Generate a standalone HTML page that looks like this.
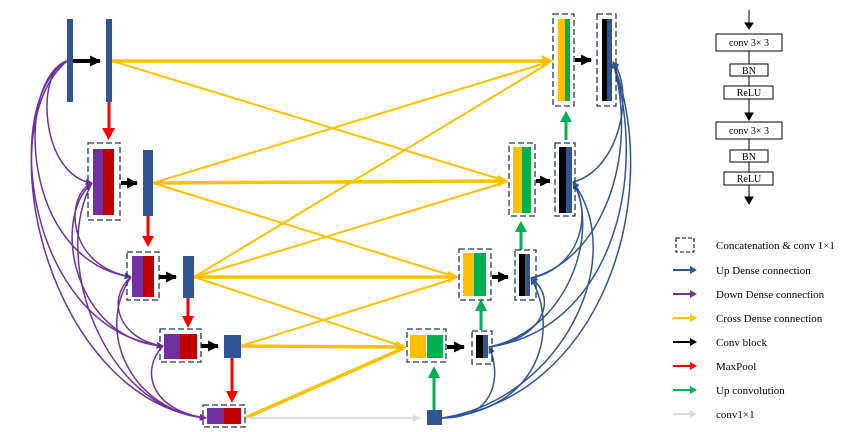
<!DOCTYPE html>
<html><head><meta charset="utf-8"><style>
html,body{margin:0;padding:0;background:#fff;}
svg{display:block;}
text{font-family:"Liberation Serif",serif;}
</style></head><body>
<svg width="863" height="432" viewBox="0 0 863 432" xmlns="http://www.w3.org/2000/svg">
<defs>
<marker id="bh" viewBox="0 0 10 10" markerWidth="11" markerHeight="12" refX="9" refY="5" orient="auto" markerUnits="userSpaceOnUse"><path d="M0,0L10,5L0,10z" fill="#000"/></marker>
<marker id="ap" viewBox="0 0 10 10" markerWidth="7" markerHeight="7" refX="9" refY="5" orient="auto" markerUnits="userSpaceOnUse"><path d="M0,0L10,5L0,10z" fill="#7030A0"/></marker>
<marker id="abl" viewBox="0 0 10 10" markerWidth="7" markerHeight="7" refX="9" refY="5" orient="auto" markerUnits="userSpaceOnUse"><path d="M0,0L10,5L0,10z" fill="#2F5597"/></marker>
<marker id="ag" viewBox="0 0 10 10" markerWidth="8" markerHeight="8" refX="9" refY="5" orient="auto" markerUnits="userSpaceOnUse"><path d="M0,0L10,5L0,10z" fill="#DDD"/></marker>
</defs>

<g stroke="#FFC000" fill="none">
<line x1="112" y1="61" x2="549" y2="61" stroke-width="3.5"/>
<line x1="112" y1="61" x2="506" y2="181" stroke-width="2"/>
<line x1="153" y1="183" x2="549" y2="62" stroke-width="2"/>
<line x1="153" y1="183" x2="506" y2="181" stroke-width="3.5"/>
<line x1="153" y1="183" x2="456" y2="277" stroke-width="2"/>
<line x1="194" y1="277" x2="549" y2="63" stroke-width="2"/>
<line x1="194" y1="277" x2="506" y2="182" stroke-width="2"/>
<line x1="194" y1="277" x2="456" y2="277" stroke-width="3.5"/>
<line x1="194" y1="277" x2="404" y2="347" stroke-width="2"/>
<line x1="241" y1="346" x2="456" y2="278" stroke-width="2"/>
<line x1="241" y1="346" x2="404" y2="347" stroke-width="3.5"/>
<line x1="245" y1="418" x2="404" y2="348" stroke-width="3.5"/>
</g>
<g fill="#FFC000">
<path d="M553,61 l-11,-6 v12z"/><path d="M509,181 l-11,-6 v12z"/><path d="M459,277 l-11,-6 v12z"/><path d="M407,347 l-11,-6 v12z"/>
</g>
<line x1="245" y1="418" x2="420" y2="418" stroke="#DDD" stroke-width="2.5" marker-end="url(#ag)"/>

<g stroke="#7030A0" stroke-width="1.5" fill="none" marker-end="url(#ap)">
<path d="M67,61 C35,70 40,175 92,183"/>
<path d="M67,61 C15,80 20,260 131,277"/>
<path d="M67,61 C0,100 25,330 163,346"/>
<path d="M67,61 C-15,130 50,400 206,418"/>
<path d="M92,183 C65,195 65,265 131,277"/>
<path d="M92,183 C50,220 75,340 163,346"/>
<path d="M92,183 C50,260 105,410 206,418"/>
<path d="M131,277 C105,300 120,340 163,346"/>
<path d="M131,277 C95,330 130,410 206,418"/>
<path d="M163,346 C140,370 150,410 206,418"/>
</g>

<g stroke="#2F5597" stroke-width="1.5" fill="none" marker-end="url(#abl)">
<path d="M442,418 C500,418 500,370 489,347"/>
<path d="M442,418 C540,410 560,330 531,278"/>
<path d="M442,418 C560,400 630,260 573,182"/>
<path d="M442,418 C600,400 665,200 613,62"/>
<path d="M489,347 C540,340 560,300 531,278"/>
<path d="M489,347 C570,330 600,230 573,182"/>
<path d="M489,347 C610,330 650,180 613,62"/>
<path d="M531,278 C575,270 595,220 573,182"/>
<path d="M531,278 C600,260 640,160 613,62"/>
<path d="M573,182 C620,170 635,90 613,62"/>
</g>

<g stroke="#000" stroke-width="4" marker-end="url(#bh)">
<line x1="73" y1="61" x2="100" y2="61"/>
<line x1="121" y1="183" x2="137" y2="183"/>
<line x1="159" y1="277" x2="176" y2="277"/>
<line x1="201" y1="346" x2="218" y2="346"/>
<line x1="447" y1="347" x2="464" y2="347"/>
<line x1="492" y1="277" x2="508" y2="277"/>
<line x1="536" y1="181" x2="550" y2="181"/>
<line x1="575" y1="60" x2="591" y2="60"/>
</g>
<g fill="#FF0000">
<rect x="107.5" y="102" width="3" height="28"/><path d="M102,128 h13 l-6.5,12z"/>
<rect x="146.5" y="216" width="3" height="22"/><path d="M142,236 h12 l-6,11z"/>
<rect x="186.5" y="298" width="3" height="20"/><path d="M182,316 h12 l-6,12z"/>
<rect x="230.5" y="358" width="3" height="35"/><path d="M226,391 h12 l-6,12z"/>
</g>
<g fill="#00B050">
<rect x="432.5" y="376" width="3" height="34"/><path d="M428,378 h12 l-6,-12z"/>
<rect x="479.5" y="309" width="3" height="21"/><path d="M475,311 h12 l-6,-12z"/>
<rect x="519.5" y="230" width="3" height="20"/><path d="M515,232 h12 l-6,-11z"/>
<rect x="564.5" y="120" width="3" height="20"/><path d="M560,122 h12 l-6,-11z"/>
</g>

<g fill="#2F5597">
<rect x="67" y="19" width="6" height="83"/>
<rect x="106" y="19" width="6" height="83"/>
<rect x="143" y="150" width="10" height="66"/>
<rect x="183" y="256" width="11" height="42"/>
<rect x="224" y="335" width="17" height="23"/>
<rect x="427" y="410" width="15" height="15"/>
</g>
<g fill="none" stroke="#1F3864" stroke-width="1.3" stroke-dasharray="6,3">
<rect x="88" y="143" width="32" height="77"/>
<rect x="127" y="252" width="32" height="48"/>
<rect x="160" y="329" width="41" height="33"/>
<rect x="203" y="405" width="42" height="22"/>
<rect x="407" y="329" width="39" height="33"/>
<rect x="472" y="331" width="20" height="33"/>
<rect x="459" y="249" width="32" height="51"/>
<rect x="515" y="250" width="21" height="50"/>
<rect x="509" y="143" width="26" height="73"/>
<rect x="555" y="143" width="20" height="73"/>
<rect x="553" y="14" width="21" height="92"/>
<rect x="597" y="14" width="19" height="92"/>
</g>
<g>
<rect x="93" y="149" width="10" height="66" fill="#7030A0"/><rect x="103" y="149" width="11" height="66" fill="#C00000"/>
<rect x="132" y="256" width="11" height="41" fill="#7030A0"/><rect x="143" y="256" width="11" height="41" fill="#C00000"/>
<rect x="164" y="334" width="16" height="25" fill="#7030A0"/><rect x="180" y="334" width="17" height="25" fill="#C00000"/>
<rect x="207" y="408" width="17" height="16" fill="#7030A0"/><rect x="224" y="408" width="17" height="16" fill="#C00000"/>
<rect x="410" y="335" width="16" height="23" fill="#FFC000"/><rect x="427" y="335" width="16" height="23" fill="#00B050"/>
<rect x="476" y="335" width="7" height="23" fill="#000"/><rect x="483" y="335" width="5" height="23" fill="#2F5597"/>
<rect x="463" y="253" width="11" height="43" fill="#FFC000"/><rect x="474" y="253" width="12" height="43" fill="#00B050"/>
<rect x="519" y="254" width="6" height="42" fill="#000"/><rect x="525" y="254" width="5" height="42" fill="#2F5597"/>
<rect x="513" y="147" width="9" height="66" fill="#FFC000"/><rect x="522" y="147" width="9" height="66" fill="#00B050"/>
<rect x="559" y="147" width="7" height="66" fill="#000"/><rect x="566" y="147" width="6" height="66" fill="#2F5597"/>
<rect x="558" y="19" width="7" height="82" fill="#FFC000"/><rect x="565" y="19" width="5" height="82" fill="#00B050"/>
<rect x="602" y="19" width="5" height="82" fill="#000"/><rect x="607" y="19" width="5" height="82" fill="#2F5597"/>
</g>

<g stroke="#000" fill="none" stroke-width="1">
<line x1="749" y1="10" x2="749" y2="24"/><path d="M745,23 h8 l-4,6z" fill="#000"/>
<rect x="716" y="34" width="66" height="17"/>
<line x1="749" y1="51" x2="749" y2="64"/>
<rect x="730" y="64" width="38" height="12"/>
<line x1="749" y1="76" x2="749" y2="86"/>
<rect x="724" y="86" width="49" height="13"/>
<line x1="749" y1="99" x2="749" y2="114"/><path d="M745,113 h8 l-4,7z" fill="#000"/>
<rect x="716" y="122" width="66" height="17"/>
<line x1="749" y1="139" x2="749" y2="150"/>
<rect x="730" y="150" width="38" height="12"/>
<line x1="749" y1="162" x2="749" y2="172"/>
<rect x="724" y="172" width="49" height="13"/>
<line x1="749" y1="185" x2="749" y2="198"/><path d="M745,197 h8 l-4,7z" fill="#000"/>
</g>
<g font-size="10" text-anchor="middle" fill="#000">
<text x="749" y="46">conv 3× 3</text>
<text x="749" y="74">BN</text>
<text x="749" y="96">ReLU</text>
<text x="749" y="134">conv 3× 3</text>
<text x="749" y="160">BN</text>
<text x="749" y="182">ReLU</text>
</g>

<rect x="676" y="238" width="18" height="14" fill="none" stroke="#000" stroke-dasharray="4,2"/>
<g stroke-width="2">
<line x1="673" y1="270" x2="692" y2="270" stroke="#2F5597"/><path d="M690,266 l7,4 l-7,4z" fill="#2F5597"/>
<line x1="673" y1="294" x2="692" y2="294" stroke="#7030A0"/><path d="M690,290 l7,4 l-7,4z" fill="#7030A0"/>
<line x1="673" y1="318" x2="692" y2="318" stroke="#FFC000"/><path d="M690,314 l7,4 l-7,4z" fill="#FFC000"/>
<line x1="673" y1="342" x2="692" y2="342" stroke="#000"/><path d="M690,338 l7,4 l-7,4z" fill="#000"/>
<line x1="673" y1="366" x2="692" y2="366" stroke="#FF0000"/><path d="M690,362 l7,4 l-7,4z" fill="#FF0000"/>
<line x1="673" y1="390" x2="692" y2="390" stroke="#00B050"/><path d="M690,386 l7,4 l-7,4z" fill="#00B050"/>
<line x1="673" y1="414" x2="692" y2="414" stroke="#DDD"/><path d="M690,410 l7,4 l-7,4z" fill="#DDD"/>
</g>
<g font-size="11" fill="#000">
<text x="716" y="249">Concatenation &amp; conv 1×1</text>
<text x="716" y="274">Up Dense connection</text>
<text x="716" y="298">Down Dense connection</text>
<text x="716" y="322">Cross Dense connection</text>
<text x="716" y="346">Conv block</text>
<text x="716" y="370">MaxPool</text>
<text x="716" y="394">Up convolution</text>
<text x="716" y="418">conv1×1</text>
</g>
</svg>
</body></html>
